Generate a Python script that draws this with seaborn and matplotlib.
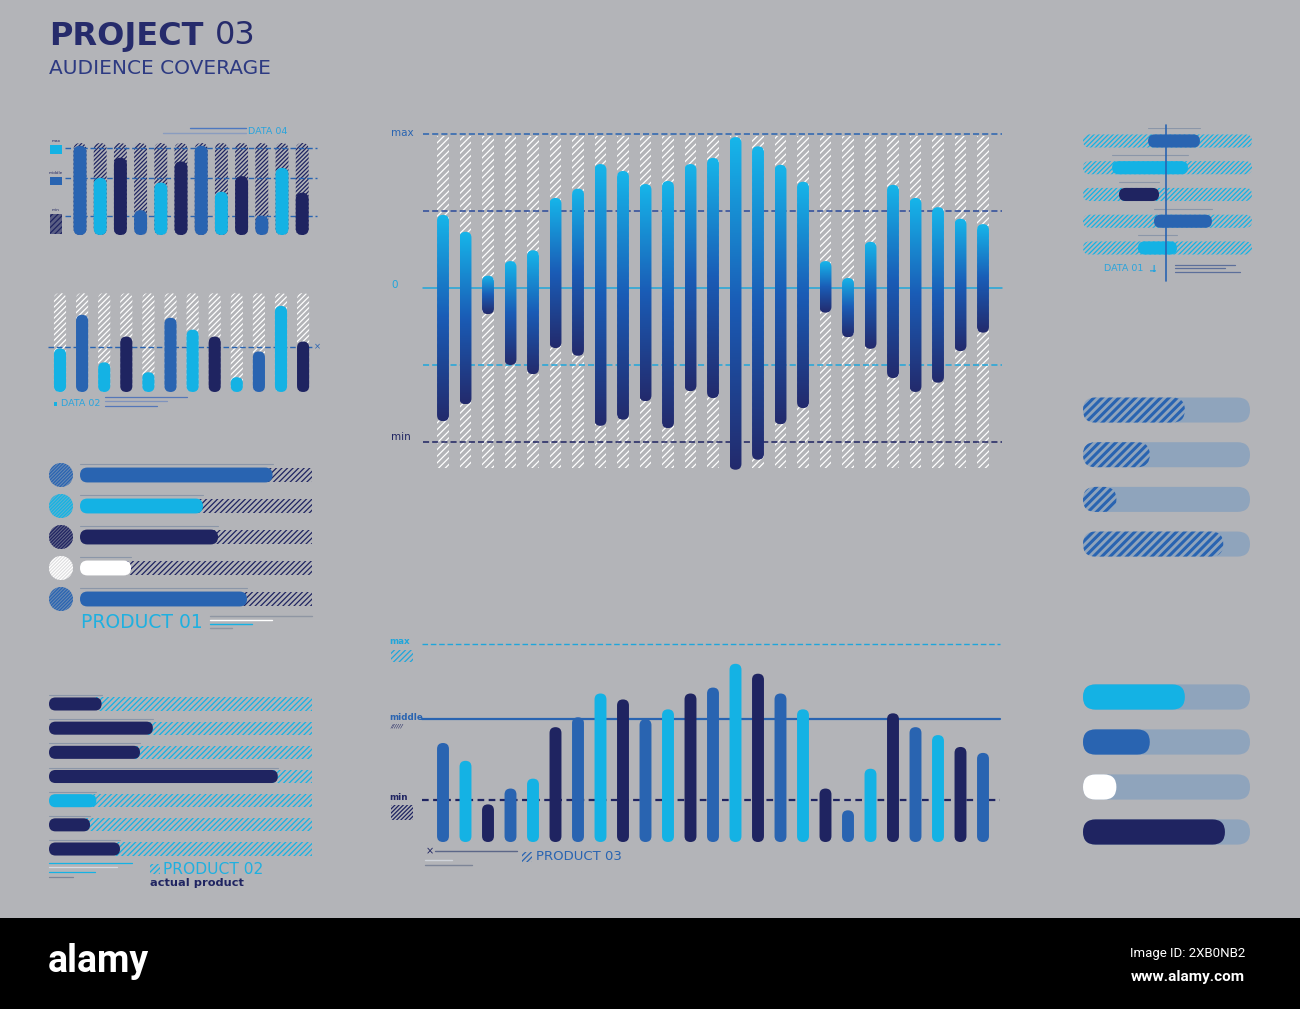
import numpy as np
import seaborn as sns
import matplotlib.pyplot as plt
from matplotlib.patches import FancyBboxPatch, Rectangle, Ellipse
from matplotlib.colors import LinearSegmentedColormap, to_rgb
from matplotlib.lines import Line2D

# canvas in pixels
W, H = 1300, 1009

BG = '#b3b4b8'
NAVY = '#1f2461'
MID = '#2964b1'
CYAN = '#14b2e4'
PALE = '#8fa4bc'
WHITE = '#ffffff'
COLORS = {'navy': NAVY, 'mid': MID, 'cyan': CYAN, 'white': WHITE}

# ---- DATA 04 (top left columns) ----
d04_vals = [97, 62, 84, 27, 57, 80, 97, 47, 64, 21, 73, 46]
d04_cols = ['mid', 'cyan', 'navy'] * 4
d04_levels = [95, 62, 21]

# ---- DATA 02 ----
d02_vals = [44, 78, 30, 56, 20, 75, 63, 56, 15, 41, 87, 51]
d02_cols = ['cyan', 'mid', 'cyan', 'navy'] * 3
d02_level = 45

# ---- PRODUCT 01 ----
p01_vals = [83, 53, 59.5, 22, 72]
p01_cols = ['mid', 'cyan', 'navy', 'white', 'mid']

# ---- PRODUCT 02 ----
p02_vals = [20, 39.5, 34.6, 87, 18, 15.6, 27]
p02_cols = ['navy', 'navy', 'navy', 'navy', 'cyan', 'navy', 'navy']

# ---- centre wave chart (range bars, min -2 .. max 2) ----
wave_top = [0.95, 0.73, 0.16, 0.35, 0.49, 1.17, 1.29, 1.61, 1.52, 1.35, 1.39, 1.61, 1.69,
            1.96, 1.84, 1.60, 1.38, 0.35, 0.13, 0.60, 1.34, 1.17, 1.05, 0.90, 0.83]
wave_bottom = [-1.73, -1.51, -0.34, -1.0, -1.12, -0.78, -0.88, -1.79, -1.71, -1.47, -1.82, -1.34, -1.43,
               -2.36, -2.23, -1.77, -1.56, -0.32, -0.64, -0.79, -1.17, -1.35, -1.23, -0.82, -0.58]
wave_range = (1.98, -2.34)
wave_levels = [2, 1, 0, -1, -2]

# ---- PRODUCT 03 ----
p03_vals = [50, 41, 19, 27, 32, 58, 63, 75, 72, 62, 67, 75, 78,
            90, 85, 75, 67, 27, 16, 37, 65, 58, 54, 48, 45]
p03_cols = ['mid', 'cyan', 'navy'] * 8 + ['mid']
p03_levels = {'max': 100, 'middle': 62, 'min': 21}

# ---- DATA 01 (floating ranges) ----
d01_start = [38.5, 17.2, 21.3, 42, 32.5]
d01_end = [69.2, 62.1, 45, 76.3, 55.6]
d01_cols = ['mid', 'cyan', 'navy', 'mid', 'cyan']
d01_marker = 49

# ---- right progress bars ----
stripe_vals = [61, 40, 20, 84]
fill_vals = [61, 40, 20, 85]
fill_cols = ['cyan', 'mid', 'white', 'navy']


sns.set_theme(style='white', rc={'figure.facecolor': BG, 'axes.facecolor': 'none'})
plt.rcParams['font.family'] = ['DejaVu Sans']
plt.rcParams['hatch.linewidth'] = 0.9

fig = plt.figure(figsize=(W / 100, H / 100), dpi=100, facecolor=BG)


def px_axes(left, top, width, height):
    ax = fig.add_axes([left / W, 1 - (top + height) / H, width / W, height / H])
    ax.set_axis_off()
    return ax


def freeze(ax, xlim, ylim):
    ax.set_xlim(*xlim)
    ax.set_ylim(*ylim)
    ax.set_autoscale_on(False)
    ax.set_axis_off()


def unit_px(ax):
    bb = ax.get_position()
    x0, x1 = ax.get_xlim()
    y0, y1 = ax.get_ylim()
    return abs(x1 - x0) / (bb.width * W), abs(y1 - y0) / (bb.height * H)


def pill(ax, x, y, w, h, hatch_lw=None, **kw):
    ux, uy = unit_px(ax)
    r = min(w / ux, h / uy) / 2 * ux
    p = FancyBboxPatch((x, y), w, h, boxstyle=f"round,pad=0,rounding_size={r}",
                       mutation_aspect=uy / ux, **kw)
    if hatch_lw is not None and hasattr(p, 'set_hatch_linewidth'):
        p.set_hatch_linewidth(hatch_lw)
    ax.add_patch(p)
    return p


def round_bars(ax, rects, zorder=2, **style):
    """swap seaborn's rectangles for rounded pills of the same size"""
    out = []
    for r in rects:
        x, y, w, h = r.get_x(), r.get_y(), r.get_width(), r.get_height()
        if w < 0:
            x, w = x + w, -w
        if h < 0:
            y, h = y + h, -h
        kw = dict(facecolor=r.get_facecolor(), lw=0)
        kw.update(style)
        out.append(pill(ax, x, y, w, h, zorder=zorder, **kw))
        r.remove()
    return out


def ftext(x, y, s, **kw):
    kw.setdefault('va', 'center')
    return fig.text(x / W, 1 - y / H, s, **kw)


def fline(x0, x1, y, color, lw=1.0, **kw):
    fig.add_artist(Line2D([x0 / W, x1 / W], [1 - y / H, 1 - y / H], color=color, lw=lw,
                          transform=fig.transFigure, **kw))


def frect(x, y, w, h, **kw):
    r = Rectangle((x / W, 1 - (y + h) / H), w / W, h / H, transform=fig.transFigure, **kw)
    fig.add_artist(r)
    return r


def mix(c, base=BG, t=0.45):
    a, b = np.array(to_rgb(c)), np.array(to_rgb(base))
    return tuple(a * t + b * (1 - t))


bar_kw = dict(errorbar=None, saturation=1)

# ---------------- title ----------------
ftext(49, 36, 'PROJECT', color='#262b6b', fontsize=23, fontweight='bold')
ftext(215, 36, '03', color='#262b6b', fontsize=23)
ftext(49, 68, 'AUDIENCE COVERAGE', color='#2d3a82', fontsize=14.5)

# ---------------- DATA 04 ----------------
ax = px_axes(69.9, 143, 242.4, 92)
ids = [f'c{i}' for i in range(len(d04_vals))]
sns.barplot(x=ids, y=[100] * len(ids), color=BG, width=0.64, ax=ax, **bar_kw)
back = list(ax.patches)
sns.barplot(x=ids, y=d04_vals, hue=ids, palette=[COLORS[c] for c in d04_cols],
            width=0.64, legend=False, ax=ax, **bar_kw)
front = [p for p in ax.patches if p not in back]
freeze(ax, (-0.5, len(ids) - 0.5), (0, 100))
round_bars(ax, back, zorder=1, facecolor='none', edgecolor=NAVY, hatch='////////')
round_bars(ax, front, zorder=2)
for v in d04_levels:
    ax.axhline(v, xmin=(65 - 69.9) / 242.4, xmax=(317 - 69.9) / 242.4, color=MID, lw=1,
               ls=(0, (4, 2)), clip_on=False, zorder=1.5)
frect(50, 145, 12, 9, facecolor=CYAN, lw=0)
frect(50, 177, 12, 8, facecolor=MID, lw=0)
frect(50, 214, 12, 20, facecolor=mix(NAVY, t=0.6), edgecolor=NAVY, hatch='//////', lw=0)
ftext(56, 141, 'max', color=NAVY, fontsize=3, ha='center')
ftext(56, 173, 'middle', color=NAVY, fontsize=3, ha='center')
ftext(56, 210, 'min', color=NAVY, fontsize=3, ha='center')
ftext(248, 131, 'DATA 04', color='#2aa4dc', fontsize=6.8)
fline(190, 246, 128, '#4d78c0', lw=1)
fline(163, 246, 133, '#8a9cbf', lw=1)

# ---------------- DATA 02 ----------------
ax = px_axes(48.95, 293, 265.2, 99)
ids = [f'd{i}' for i in range(len(d02_vals))]
sns.barplot(x=ids, y=[100] * len(ids), color=BG, width=0.55, ax=ax, **bar_kw)
back = list(ax.patches)
sns.barplot(x=ids, y=d02_vals, hue=ids, palette=[COLORS[c] for c in d02_cols],
            width=0.55, legend=False, ax=ax, **bar_kw)
front = [p for p in ax.patches if p not in back]
freeze(ax, (-0.5, len(ids) - 0.5), (0, 100))
round_bars(ax, back, zorder=1, facecolor='none', edgecolor=WHITE, hatch='//////')
round_bars(ax, front, zorder=2)
ax.axhline(d02_level, xmin=-0.003, xmax=(314 - 48.95) / 265.2, color=MID, lw=1,
           ls=(0, (4, 2)), clip_on=False, zorder=1.5)
ftext(317, 347, '×', color=MID, fontsize=6, ha='center')
frect(54, 402, 3, 4, facecolor=CYAN, lw=0)
ftext(61, 404, 'DATA 02', color='#2aa4dc', fontsize=6.8)
fline(105, 187, 397, '#5577b8', lw=0.9)
fline(105, 167, 401, '#7f93bd', lw=0.9)
fline(105, 157, 406, '#5577b8', lw=0.9)

# ---------------- PRODUCT 01 ----------------
ax = px_axes(80, 459.5, 232, 155)
rows = [f'p{i}' for i in range(len(p01_vals))]
sns.barplot(x=p01_vals, y=rows, hue=rows, palette=[COLORS[c] for c in p01_cols], orient='h',
            width=0.48, legend=False, ax=ax, **bar_kw)
front = list(ax.patches)
freeze(ax, (0, 100), (len(rows) - 0.5, -0.5))
ux, uy = unit_px(ax)
for i, v in enumerate(p01_vals):
    ax.barh(i, 100 - v + 7 * ux, left=v - 7 * ux, height=0.48, facecolor='none',
            edgecolor=NAVY, hatch='//////', lw=0, zorder=1)
    ax.plot([0, v], [i - 0.36, i - 0.36], color='#8b96a8', lw=0.8, zorder=1)
    c = COLORS[p01_cols[i]]
    ax.add_patch(Ellipse((-19 * ux, i), 24 * ux, 24 * uy, facecolor=mix(c, t=0.55),
                         edgecolor=c, hatch='//////////', lw=0, clip_on=False))
round_bars(ax, front, zorder=2)
ftext(81, 623, 'PRODUCT 01', color='#1fb0e0', fontsize=13.5)
fline(210, 312, 616, '#8f96a3', lw=1)
fline(210, 272, 620, WHITE, lw=1)
fline(210, 252, 624, CYAN, lw=1)
fline(210, 232, 628, '#8f96a3', lw=1)

# ---------------- PRODUCT 02 ----------------
ax = px_axes(49, 691.9, 263, 169.2)
rows = [f'q{i}' for i in range(len(p02_vals))]
sns.barplot(x=p02_vals, y=rows, hue=rows, palette=[COLORS[c] for c in p02_cols], orient='h',
            width=0.54, legend=False, ax=ax, **bar_kw)
front = list(ax.patches)
freeze(ax, (0, 100), (len(rows) - 0.5, -0.5))
ux, uy = unit_px(ax)
for i, v in enumerate(p02_vals):
    ax.barh(i, 100 - v + 6 * ux, left=v - 6 * ux, height=0.54, facecolor='none',
            edgecolor=CYAN, hatch='//////', lw=0, zorder=1)
    ax.plot([0, v], [i - 0.37, i - 0.37], color='#8b96a8', lw=0.8, zorder=1)
round_bars(ax, front, zorder=2)
fline(49, 132, 863, CYAN, lw=0.9)
fline(49, 117, 867, '#d6dbe3', lw=0.9)
fline(49, 95, 872, CYAN, lw=0.9)
fline(49, 73, 877, '#7d8597', lw=0.9)
frect(150, 864, 10, 10, facecolor='none', edgecolor=CYAN, hatch='//////', lw=0)
ftext(163, 869, 'PRODUCT 02', color='#1fb0e0', fontsize=11.2)
ftext(150, 883, 'actual product', color=NAVY, fontsize=8.2, fontweight='bold')

# ---------------- centre wave chart ----------------
ax = px_axes(431.75, 130, 562.5, 340)
n = len(wave_top)
ids = [f'w{i:02d}' for i in range(n)]
sns.barplot(x=ids, y=[wave_range[0]] * n, color=WHITE, width=0.53, ax=ax, **bar_kw)
sns.barplot(x=ids, y=[wave_range[1]] * n, color=WHITE, width=0.53, ax=ax, **bar_kw)
freeze(ax, (-0.5, n - 0.5), ((288 - 470) / 77, (288 - 130) / 77))
for r in ax.patches:
    r.set_facecolor('none')
    r.set_edgecolor(WHITE)
    r.set_hatch('/////')
    r.set_linewidth(0)
    r.set_zorder(1)
level_style = {2: (MID, '--'), 1: ('#2a4a9a', '--'), 0: ('#1fa6db', '-'),
               -1: ('#1fa6db', '--'), -2: (NAVY, '--')}
for v in wave_levels:
    c, ls = level_style[v]
    ax.axhline(v, xmin=(423 - 431.75) / 562.5, xmax=(1002 - 431.75) / 562.5, color=c, lw=1.1,
               ls=(0, (4, 2)) if ls == '--' else '-', clip_on=False, zorder=1.5)
wave_cmap = LinearSegmentedColormap.from_list('wave', ['#232a6c', '#1a5cb6', '#16b6ea'])
grad = np.linspace(0, 1, 256).reshape(-1, 1)
bw = 0.53
for i, (lo, hi) in enumerate(zip(wave_bottom, wave_top)):
    clip = pill(ax, i - bw / 2, lo, bw, hi - lo, facecolor='none', lw=0, zorder=3)
    im = ax.imshow(grad, cmap=wave_cmap, extent=(i - bw / 2, i + bw / 2, lo, hi), origin='lower',
                   aspect='auto', interpolation='bilinear', zorder=3)
    im.set_clip_path(clip)
freeze(ax, (-0.5, n - 0.5), ((288 - 470) / 77, (288 - 130) / 77))
ftext(391, 133, 'max', color=MID, fontsize=7.5)
ftext(391, 285, '0', color='#1fa6db', fontsize=7.5)
ftext(391, 437, 'min', color=NAVY, fontsize=7.5)

# ---------------- PRODUCT 03 ----------------
ax = px_axes(431.75, 644, 562.5, 198)
ids = [f'b{i:02d}' for i in range(len(p03_vals))]
sns.barplot(x=ids, y=p03_vals, hue=ids, palette=[COLORS[c] for c in p03_cols],
            width=0.53, legend=False, ax=ax, **bar_kw)
front = list(ax.patches)
freeze(ax, (-0.5, len(ids) - 0.5), (0, 100))
round_bars(ax, front, zorder=2)
xa, xb = (422 - 431.75) / 562.5, (1000 - 431.75) / 562.5
ax.axhline(p03_levels['max'], xmin=xa, xmax=xb, color='#1fa6db', lw=1, ls=(0, (4, 2)),
           clip_on=False, zorder=1.5)
ax.axhline(p03_levels['middle'], xmin=xa, xmax=xb, color=MID, lw=1.6, clip_on=False, zorder=1.5)
ax.axhline(p03_levels['min'], xmin=xa, xmax=xb, color=NAVY, lw=1.6, ls=(0, (3, 2)),
           clip_on=False, zorder=1.5)
ftext(389, 642, 'max', color='#1fa6db', fontsize=6.3, fontweight='bold')
frect(391, 650, 22, 12, facecolor='none', edgecolor='#1fa6db', hatch='//////', lw=0)
ftext(389, 718, 'middle', color=MID, fontsize=6.3, fontweight='bold')
ftext(390, 726, '//////', color=NAVY, fontsize=4.5, style='italic')
ftext(389, 797, 'min', color=NAVY, fontsize=6.3, fontweight='bold')
frect(391, 805, 22, 15, facecolor='none', edgecolor=NAVY, hatch='////////', lw=0)
ftext(430, 851, '×', color=NAVY, fontsize=7, ha='center')
fline(435, 517, 851, '#5c6788', lw=1)
fline(425, 452, 860, '#d0d4db', lw=1)
fline(425, 472, 865, '#7d8597', lw=1)
frect(522, 852, 10, 10, facecolor='none', edgecolor=MID, hatch='//////', lw=0)
ftext(536, 857, 'PRODUCT 03', color=MID, fontsize=9.5)

# ---------------- DATA 01 ----------------
ax = px_axes(1083, 127.6, 169, 133.75)
freeze(ax, (0, 100), (len(d01_start) - 0.5, -0.5))
for i, (s, e) in enumerate(zip(d01_start, d01_end)):
    pill(ax, 0, i - 0.245, 100, 0.49, facecolor='none', edgecolor=CYAN, hatch='///////', lw=0,
         zorder=1)
    ax.plot([s, e], [i - 0.47, i - 0.47], color='#8b96a8', lw=0.8, zorder=1)
    pill(ax, s, i - 0.245, e - s, 0.49, facecolor=COLORS[d01_cols[i]], lw=0, zorder=2)
ax.axvline(d01_marker, ymin=-0.15, ymax=1.02, color=MID, lw=1.2, clip_on=False, zorder=3)
ftext(1104, 269, 'DATA 01', color='#2aa4dc', fontsize=6.8)
frect(1150, 265, 6, 7, facecolor='none', edgecolor='#2aa4dc', hatch='++', lw=0)
fline(1175, 1235, 265, '#5c6f9a', lw=0.9)
fline(1175, 1225, 268, '#5c6f9a', lw=0.9)
fline(1175, 1240, 272, '#5c6f9a', lw=0.9)

# ---------------- striped progress bars ----------------
ax = px_axes(1083, 387.7, 167, 178.7)
rows = [f's{i}' for i in range(len(stripe_vals))]
sns.barplot(x=[100] * len(rows), y=rows, color=PALE, orient='h', width=0.56, ax=ax, **bar_kw)
tracks = list(ax.patches)
sns.barplot(x=stripe_vals, y=rows, color=PALE, orient='h', width=0.56, ax=ax, **bar_kw)
stripes = [p for p in ax.patches if p not in tracks]
freeze(ax, (0, 100), (len(rows) - 0.5, -0.5))
round_bars(ax, tracks, zorder=1, facecolor=PALE)
round_bars(ax, stripes, zorder=2, facecolor='none', edgecolor=MID, hatch='////', hatch_lw=2.2)

# ---------------- filled progress bars ----------------
ax = px_axes(1083, 674.5, 167, 180)
rows = [f'f{i}' for i in range(len(fill_vals))]
sns.barplot(x=[100] * len(rows), y=rows, color=PALE, orient='h', width=0.56, ax=ax, **bar_kw)
tracks = list(ax.patches)
sns.barplot(x=fill_vals, y=rows, hue=rows, palette=[COLORS[c] for c in fill_cols], orient='h',
            width=0.56, legend=False, ax=ax, **bar_kw)
fills = [p for p in ax.patches if p not in tracks]
freeze(ax, (0, 100), (len(rows) - 0.5, -0.5))
round_bars(ax, tracks, zorder=1, facecolor=PALE)
round_bars(ax, fills, zorder=2)

# ---------------- footer band ----------------
frect(0, 918, W, 91, facecolor='black', lw=0, zorder=-1)
ftext(48, 962, 'alamy', color='white', fontsize=27, fontweight='bold', family=['Roboto', 'DejaVu Sans'])
ftext(1245, 953, 'Image ID: 2XB0NB2', color='white', fontsize=9.5, ha='right',
      family=['Roboto', 'DejaVu Sans'])
ftext(1245, 977, 'www.alamy.com', color='white', fontsize=11, ha='right', fontweight='bold',
      family=['Roboto', 'DejaVu Sans'])

fig.savefig('out.png', dpi=100, facecolor=BG)
